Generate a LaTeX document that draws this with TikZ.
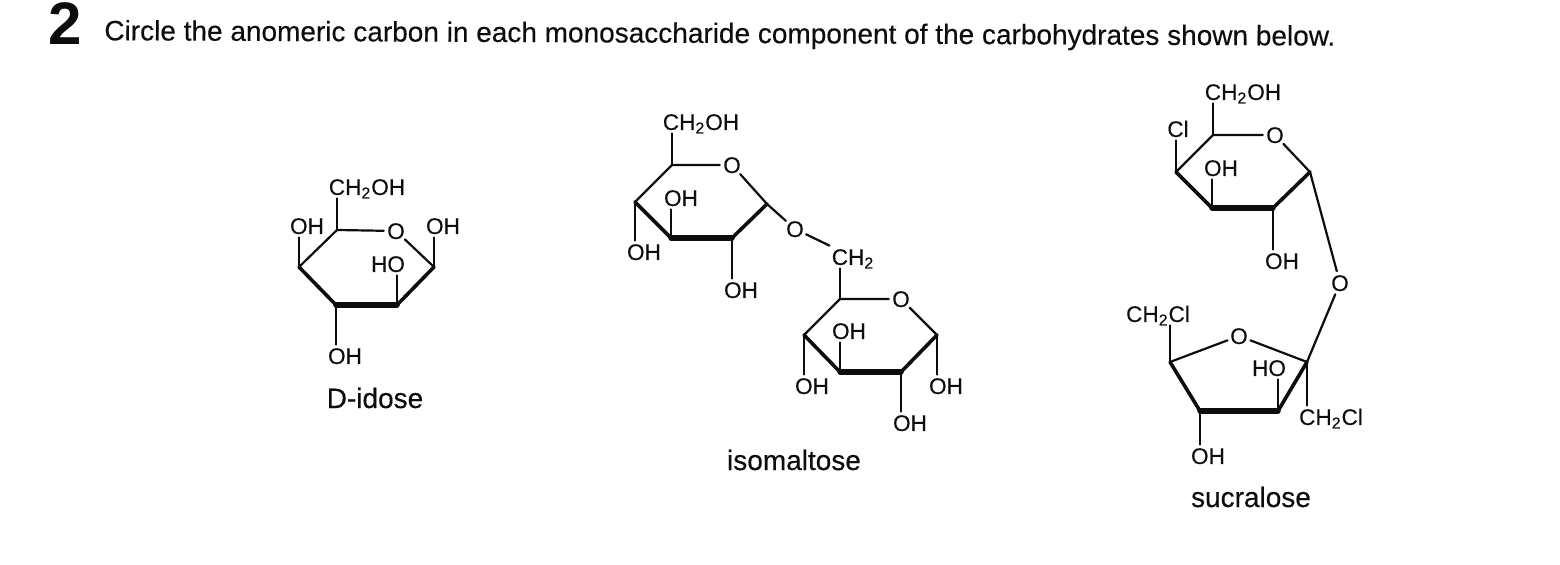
\documentclass[tikz,border=0pt]{standalone}
\usepackage{fontspec}
\setmainfont{Liberation Sans}
\newfontfamily\capfont[FakeBold=0.4]{Liberation Sans}
\newfontfamily\atomfont[FakeBold=0.25]{Liberation Sans}
\colorlet{ink}{black!95}
\tikzset{
    bond/.style={ink, line width=1.1pt, line cap=round},
    midbond/.style={ink, line width=1.8pt, line cap=round},
    frontbond/.style={ink, line width=2.7pt, line cap=round},
    atom/.style={ink, inner sep=1.5pt, text height=8pt, text depth=0pt, font=\atomfont\fontsize{11.3}{13}\selectfont},
    oxygen/.style={atom, circle, inner sep=0pt},
    caption/.style={ink, inner sep=0pt, font=\capfont\fontsize{14}{16}\selectfont}
}
\newcommand{\chtwo}{CH\textsubscript{2}}
\begin{document}
\begin{tikzpicture}[x=0.5pt, y=-0.5pt]
    \useasboundingbox (0, 0) rectangle (1560, 565);
    \node[ink, inner sep=0pt, font=\bfseries\fontsize{30}{32}\selectfont] (number) at (65, 24) {2};
    \node[ink, anchor=west, inner sep=0pt, rotate=-0.25, font=\atomfont\fontsize{14}{16}\selectfont] (question) at (104, 33) {Circle the anomeric carbon in each monosaccharide component of the carbohydrates shown below.};

    \coordinate (ida5) at (337, 230);
    \coordinate (ida1) at (434, 267);
    \coordinate (ida2) at (397, 305);
    \coordinate (ida3) at (336, 305);
    \coordinate (ida4) at (299, 267);
    \node[oxygen] (idao) at (396, 231) {O};
    \node[atom] (idatop) at (367, 187) {\chtwo OH};
    \node[atom] (idaoh4) at (307, 226) {OH};
    \node[atom] (idaoh1) at (443, 226) {OH};
    \node[atom] (idaoh2) at (388, 264) {HO};
    \node[atom] (idaoh3) at (345, 356) {OH};
    \node[caption] (idaname) at (375, 398) {D-idose};
    \draw[bond] (idao) -- (ida5) -- (ida4);
    \draw[bond] (idao) -- (ida1);
    \draw[midbond] (ida4) -- (ida3);
    \draw[frontbond] (ida3) -- (ida2);
    \draw[midbond] (ida2) -- (ida1);
    \draw[bond] (ida5) -- (idatop.south -| ida5);
    \draw[bond] (ida4) -- (idaoh4.south -| ida4);
    \draw[bond] (ida1) -- (idaoh1.south -| ida1);
    \draw[bond] (ida2) -- (idaoh2.south -| ida2);
    \draw[bond] (ida3) -- (idaoh3.north -| ida3);

    \coordinate (isa5) at (672, 165);
    \coordinate (isa1) at (767, 204);
    \coordinate (isa2) at (732, 238);
    \coordinate (isa3) at (671, 238);
    \coordinate (isa4) at (635, 202);
    \node[oxygen] (isao) at (732, 165) {O};
    \node[atom] (isatop) at (701, 122) {\chtwo OH};
    \node[atom] (isaoh3) at (681, 198) {OH};
    \node[atom] (isaoh4) at (644, 252) {OH};
    \node[atom] (isaoh2) at (741, 290) {OH};
    \node[oxygen] (isbridge) at (795, 229) {O};
    \node[atom] (isch) at (853, 257) {\chtwo};
    \coordinate (isb5) at (840, 299);
    \coordinate (isb1) at (937, 335);
    \coordinate (isb2) at (901, 372);
    \coordinate (isb3) at (840, 372);
    \coordinate (isb4) at (804, 335);
    \node[oxygen] (isbo) at (901, 299) {O};
    \node[atom] (isboh3) at (849, 331) {OH};
    \node[atom] (isboh4) at (812, 386) {OH};
    \node[atom] (isboh1) at (946, 386) {OH};
    \node[atom] (isboh2) at (910, 423) {OH};
    \node[caption] (isname) at (794, 460) {isomaltose};
    \draw[bond] (isao) -- (isa5) -- (isa4);
    \draw[bond] (isao) -- (isa1);
    \draw[midbond] (isa4) -- (isa3);
    \draw[frontbond] (isa3) -- (isa2);
    \draw[midbond] (isa2) -- (isa1);
    \draw[bond] (isa5) -- (isatop.south -| isa5);
    \draw[bond] (isa3) -- (isaoh3.south -| isa3);
    \draw[bond] (isa4) -- (isaoh4.north -| isa4);
    \draw[bond] (isa2) -- (isaoh2.north -| isa2);
    \draw[bond] (isa1) -- (isbridge);
    \draw[bond] (isbridge) -- (isch);
    \draw[bond] (isch.south -| isb5) -- (isb5);
    \draw[bond] (isbo) -- (isb5) -- (isb4);
    \draw[bond] (isbo) -- (isb1);
    \draw[midbond] (isb4) -- (isb3);
    \draw[frontbond] (isb3) -- (isb2);
    \draw[midbond] (isb2) -- (isb1);
    \draw[bond] (isb3) -- (isboh3.south -| isb3);
    \draw[bond] (isb4) -- (isboh4.north -| isb4);
    \draw[bond] (isb1) -- (isboh1.north -| isb1);
    \draw[bond] (isb2) -- (isboh2.north -| isb2);

    \coordinate (sua5) at (1213, 135);
    \coordinate (sua1) at (1310, 172);
    \coordinate (sua2) at (1273, 208);
    \coordinate (sua3) at (1212, 208);
    \coordinate (sua4) at (1176, 172);
    \node[oxygen] (suao) at (1275, 135) {O};
    \node[atom] (suatop) at (1243, 92) {\chtwo OH};
    \node[atom] (sucl) at (1178, 129) {Cl};
    \node[atom] (suaoh3) at (1221, 168) {OH};
    \node[atom] (suaoh2) at (1282, 261) {OH};
    \node[oxygen] (subridge) at (1340, 283) {O};
    \coordinate (sub2) at (1307, 362);
    \coordinate (sub3) at (1278, 411);
    \coordinate (sub4) at (1200, 411);
    \coordinate (sub5) at (1170, 362);
    \node[oxygen] (subo) at (1239, 336) {O};
    \node[atom] (subleft) at (1158, 314) {\chtwo Cl};
    \node[atom] (subright) at (1331, 417) {\chtwo Cl};
    \node[atom] (suboh3) at (1269, 368) {HO};
    \node[atom] (suboh4) at (1208, 456) {OH};
    \node[caption] (suname) at (1251, 497) {sucralose};
    \draw[bond] (suao) -- (sua5) -- (sua4);
    \draw[bond] (suao) -- (sua1);
    \draw[midbond] (sua4) -- (sua3);
    \draw[frontbond] (sua3) -- (sua2);
    \draw[midbond] (sua2) -- (sua1);
    \draw[bond] (sua5) -- (suatop.south -| sua5);
    \draw[bond] (sua4) -- (sucl.south -| sua4);
    \draw[bond] (sua3) -- (suaoh3.south -| sua3);
    \draw[bond] (sua2) -- (suaoh2.north -| sua2);
    \draw[bond] (sua1) -- (subridge);
    \draw[bond] (subridge) -- (sub2);
    \draw[bond] (subo) -- (sub5);
    \draw[bond] (subo) -- (sub2);
    \draw[midbond] (sub5) -- (sub4);
    \draw[frontbond] (sub4) -- (sub3);
    \draw[midbond] (sub3) -- (sub2);
    \draw[bond] (sub5) -- (subleft.south -| sub5);
    \draw[bond] (sub2) -- (subright.north -| sub2);
    \draw[bond] (sub3) -- (suboh3.south -| sub3);
    \draw[bond] (sub4) -- (suboh4.north -| sub4);
\end{tikzpicture}
\end{document}
